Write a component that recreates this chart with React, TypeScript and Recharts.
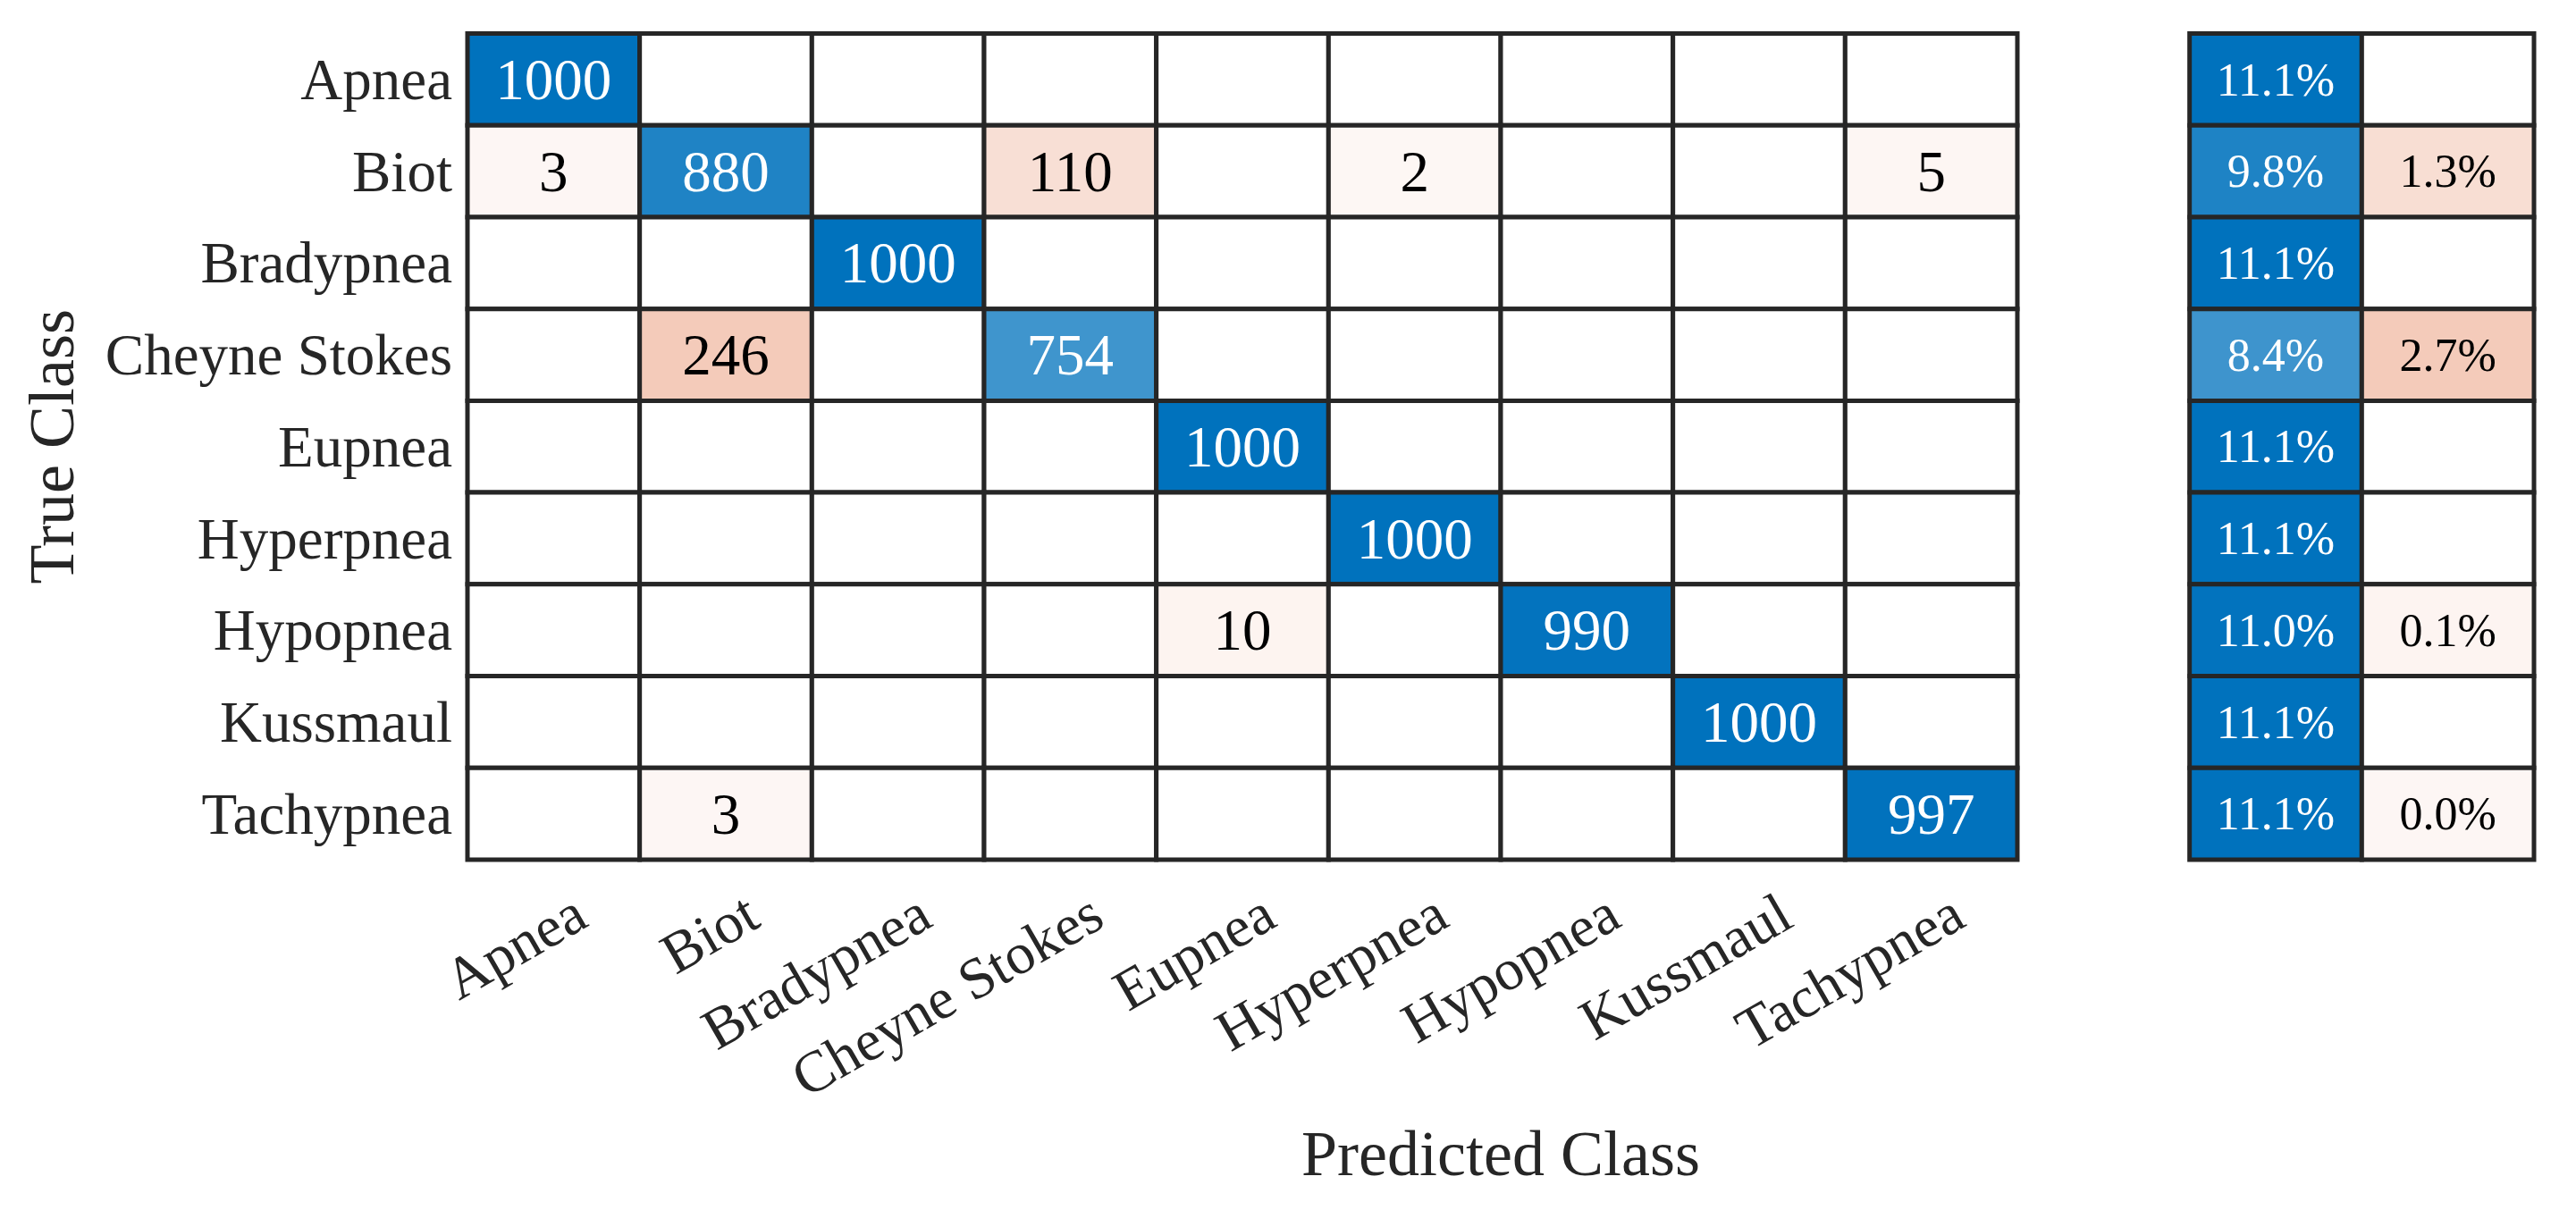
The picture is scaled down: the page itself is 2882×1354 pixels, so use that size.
import React from 'react';
import { ScatterChart, Scatter, XAxis, YAxis, ReferenceArea, Label } from 'recharts';

// ---- data ----
const classes = ['Apnea', 'Biot', 'Bradypnea', 'Cheyne Stokes', 'Eupnea', 'Hyperpnea', 'Hypopnea', 'Kussmaul', 'Tachypnea'];
const rowApnea = [1000, 0, 0, 0, 0, 0, 0, 0, 0];
const rowBiot = [3, 880, 0, 110, 0, 2, 0, 0, 5];
const rowBradypnea = [0, 0, 1000, 0, 0, 0, 0, 0, 0];
const rowCheyne = [0, 246, 0, 754, 0, 0, 0, 0, 0];
const rowEupnea = [0, 0, 0, 0, 1000, 0, 0, 0, 0];
const rowHyperpnea = [0, 0, 0, 0, 0, 1000, 0, 0, 0];
const rowHypopnea = [0, 0, 0, 0, 10, 0, 990, 0, 0];
const rowKussmaul = [0, 0, 0, 0, 0, 0, 0, 1000, 0];
const rowTachypnea = [0, 3, 0, 0, 0, 0, 0, 0, 997];
const counts = [rowApnea, rowBiot, rowBradypnea, rowCheyne, rowEupnea, rowHyperpnea, rowHypopnea, rowKussmaul, rowTachypnea];
const correctPct = [11.1, 9.8, 11.1, 8.4, 11.1, 11.1, 11.0, 11.1, 11.1];
const wrongPct: (number | null)[] = [null, 1.3, null, 2.7, null, null, 0.1, null, 0.0];
const xTicks = [0.5, 1.5, 2.5, 3.5, 4.5, 5.5, 6.5, 7.5, 8.5];
const yTicks = [0.5, 1.5, 2.5, 3.5, 4.5, 5.5, 6.5, 7.5, 8.5];

// ---- styling ----
const FONT = '"Liberation Serif", "Times New Roman", serif';
const TEXT = '#262626';
const BORDER = '#262626';
const BW = 5;
const BLUE = [0, 114, 189];
const ORANGE = [217, 83, 25];

const mix = (c: number[], t: number) =>
  `rgb(${c.map((v) => Math.round(255 + (v - 255) * t)).join(',')})`;
const diagColor = (v: number) => mix(BLUE, v / 1000);
const offColor = (v: number) => mix(ORANGE, 0.04 + 0.75 * Math.pow(v / 1000, 0.75));

const CellLabel = (props: any) => {
  const { viewBox, text, color, size } = props;
  if (!viewBox) return null;
  const { x, y, width, height } = viewBox;
  return (
    <text x={x + width / 2} y={y + height / 2} dy="0.34em" textAnchor="middle" fill={color} fontSize={size} fontFamily={FONT}>
      {text}
    </text>
  );
};

const XTick = (props: any) => {
  const { x, y, payload } = props;
  const i = Math.floor(payload.value);
  if (i < 0 || i > 8) return <g />;
  return (
    <text transform={`translate(${x + 30},${y + 54}) rotate(-30)`} dy="0.34em" textAnchor="end" fill={TEXT} fontSize={65} fontFamily={FONT}>
      {classes[i]}
    </text>
  );
};

const YTick = (props: any) => {
  const { x, y, payload } = props;
  const i = Math.floor(payload.value);
  return (
    <text x={x} y={y} dy="0.34em" textAnchor="end" fill={TEXT} fontSize={65} fontFamily={FONT}>
      {classes[i]}
    </text>
  );
};

const YTitle = (props: any) => {
  const { viewBox } = props;
  const cx = viewBox.x + 82;
  const cy = viewBox.y + viewBox.height / 2;
  return (
    <text transform={`translate(${cx},${cy}) rotate(-90)`} textAnchor="middle" fill={TEXT} fontSize={72} fontFamily={FONT}>
      True Class
    </text>
  );
};

const XTitle = (props: any) => {
  const { viewBox } = props;
  const cx = viewBox.x + viewBox.width / 2;
  const cy = viewBox.y + 353;
  return (
    <text x={cx} y={cy} textAnchor="middle" fill={TEXT} fontSize={72} fontFamily={FONT}>
      Predicted Class
    </text>
  );
};

const points = counts.flatMap((row, r) => row.map((v, c) => ({ x: c + 0.5, y: r + 0.5, v })));

export default function App() {
  const areas: React.ReactNode[] = [];
  counts.forEach((row, r) => {
    row.forEach((v, c) => {
      const isDiag = r === c;
      const fill = v === 0 ? '#ffffff' : isDiag ? diagColor(v) : offColor(v);
      const color = isDiag ? '#ffffff' : '#000000';
      areas.push(
        <ReferenceArea
          key={`m-${r}-${c}`}
          x1={c}
          x2={c + 1}
          y1={r}
          y2={r + 1}
          fill={fill}
          fillOpacity={1}
          stroke={BORDER}
          strokeWidth={BW}
          strokeOpacity={1}
          ifOverflow="visible"
          label={v === 0 ? undefined : <CellLabel text={String(v)} color={color} size={65} />}
        />
      );
    });
    const cp = correctPct[r];
    areas.push(
      <ReferenceArea
        key={`c-${r}`}
        x1={10}
        x2={11}
        y1={r}
        y2={r + 1}
        fill={diagColor((cp / 11.1) * 1000)}
        fillOpacity={1}
        stroke={BORDER}
        strokeWidth={BW}
        strokeOpacity={1}
        ifOverflow="visible"
        label={<CellLabel text={`${cp.toFixed(1)}%`} color="#ffffff" size={52} />}
      />
    );
    const wp = wrongPct[r];
    areas.push(
      <ReferenceArea
        key={`w-${r}`}
        x1={11}
        x2={12}
        y1={r}
        y2={r + 1}
        fill={wp === null ? '#ffffff' : offColor(Math.max(wp * 90, 3))}
        fillOpacity={1}
        stroke={BORDER}
        strokeWidth={BW}
        strokeOpacity={1}
        ifOverflow="visible"
        label={wp === null ? undefined : <CellLabel text={`${wp.toFixed(1)}%`} color="#000000" size={52} />}
      />
    );
  });

  return (
    <div style={{ position: 'absolute', left: 0, top: 0, width: 2882, height: 1354, background: '#fff' }}>
      <ScatterChart width={2882} height={1354} margin={{ top: 37.5, right: 47, left: 0, bottom: 0 }}>
        <XAxis
          type="number"
          dataKey="x"
          domain={[0, 12]}
          ticks={xTicks}
          interval={0}
          height={392}
          axisLine={false}
          tickLine={false}
          tickSize={0}
          tickMargin={0}
          tick={<XTick />}
          allowDataOverflow
        >
          <Label content={<XTitle />} />
        </XAxis>
        <YAxis
          type="number"
          dataKey="y"
          domain={[0, 9]}
          reversed
          ticks={yTicks}
          interval={0}
          width={523}
          axisLine={false}
          tickLine={false}
          tickSize={0}
          tickMargin={17}
          tick={<YTick />}
          allowDataOverflow
        >
          <Label content={<YTitle />} />
        </YAxis>
        {areas}
        <Scatter data={points} isAnimationActive={false} shape={() => <g />} />
      </ScatterChart>
    </div>
  );
}
